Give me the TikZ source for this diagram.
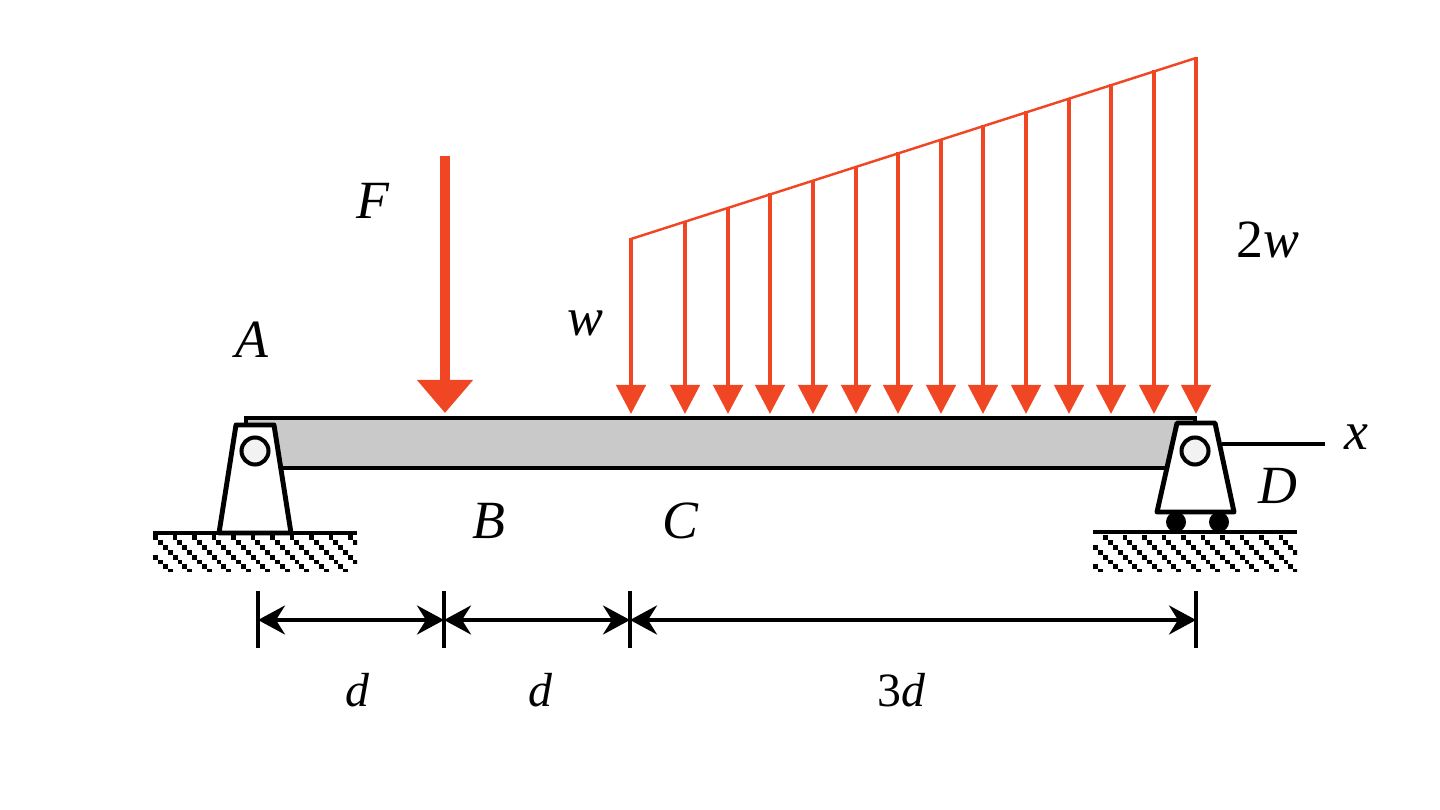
\documentclass[tikz,border=0pt]{standalone}
\usepackage{fontspec}
\setmainfont{Liberation Serif}
\usetikzlibrary{positioning, arrows.meta, calc}
\definecolor{loadred}{HTML}{F04623}
\definecolor{beamgray}{HTML}{C9C9C9}
\definecolor{pingray}{HTML}{F2F2F2}
\tikzset{
  lbl/.style={font=\fontsize{15.3}{18}\selectfont\itshape, inner sep=0pt},
  dimlbl/.style={font=\fontsize{13.6}{16}\selectfont\itshape, inner sep=0pt},
  pin/.style={circle, draw=black, line width=1.15pt, fill=pingray, minimum size=0.27cm, inner sep=0pt},
  wheel/.style={circle, fill=black, minimum size=0.2cm, inner sep=0pt},
  support/.style={draw=black, line width=1.4pt, fill=white, line join=round},
  ground/.style={black, line width=1.1pt},
  dimline/.style={black, line width=1.05pt, {Stealth[length=0.27cm,width=0.29cm,inset=0.09cm]}-{Stealth[length=0.27cm,width=0.29cm,inset=0.09cm]}},
  tick/.style={black, line width=1.2pt},
  loadarrow/.style={loadred, line width=1.35pt, -{Triangle[length=0.29cm,width=0.29cm]}}
}
\begin{document}
\begin{tikzpicture}[x=0.01cm,y=-0.01cm]
\useasboundingbox (0,0) rectangle (1440,810);

% beam
\fill[beamgray] (246,418) rectangle (1195,468);
\draw[black, line width=1.4pt] (246,425) -- (246,418) -- (1195,418) -- (1195,425);
\draw[black, line width=1.2pt] (246,468) -- (1195,468);

% ground
\foreach \gx/\off in {153/0,1093/10} {
  \begin{scope}
    \clip (\gx,533) rectangle ++(204,38);
    \foreach \row in {0,...,7}
      \foreach \i in {-2,...,10}
        \fill[black] ({\gx+\off+\i*19.5+\row*4.9},{535+\row*4.9}) rectangle ++(4.9,4.9);
  \end{scope}
}
\coordinate (gA1) at (153,533);
\coordinate (gA2) at (357,533);
\coordinate (gD1) at (1093,532);
\coordinate (gD2) at (1297,532);
\draw[ground] (gA1) -- (gA2);
\draw[ground] (gD1) -- (gD2);

% supports
\draw[support] (236,425) -- (274,425) -- (291,533) -- (219,533) -- cycle;
\node[pin] (pinA) at (255,451) {};
\draw[support] (1177,423) -- (1215,423) -- (1234,512) -- (1157,512) -- cycle;
\node[pin] (pinD) at (1195,451) {};
\node[wheel] (wheelL) at (1176,522) {};
\node[wheel] (wheelR) at (1219,522) {};

% axis
\coordinate (axis0) at (1222,444);
\coordinate (axis1) at (1325,444);
\draw[black, line width=1.05pt] (axis0) -- (axis1);

% point load
\coordinate (F0) at (445,156);
\coordinate (F1) at (445,413);
\draw[loadred, line width=3.1pt, -{Triangle[length=0.33cm,width=0.54cm]}] (F0) -- (F1);

% distributed load
\coordinate (w0) at (631,239);
\coordinate (w1) at (1196,58);
\draw[loadred, line width=0.7pt] (w0) -- (w1);
\foreach \ax in {631,685,728,770,813,856,898,941,983,1026,1069,1111,1154,1196}
  \draw[loadarrow] (\ax,{239-(\ax-631)*0.3204-1}) -- (\ax,414);

% dimensions
\coordinate (t1) at (258,620);
\coordinate (t2) at (444,620);
\coordinate (t3) at (630,620);
\coordinate (t4) at (1196,620);
\foreach \t in {t1,t2,t3,t4}
  \draw[tick] ($(\t)+(0,-29)$) -- ($(\t)+(0,28)$);
\draw[dimline] (t1) -- (t2);
\draw[dimline] (t2) -- (t3);
\draw[dimline] (t3) -- (t4);

% labels
\node[lbl] (lblF) at (373,201) {F};
\node[lbl] (lblA) at (252,340) {A};
\node[lbl] (lblB) at (489,521) {B};
\node[lbl] (lblC) at (680,521) {C};
\node[lbl] (lblD) at (1278,486) {D};
\node[lbl] (lblw) at (585,323) {w};
\node[lbl] (lbl2w) at (1268,240) {\upshape 2\itshape w};
\node[lbl] (lblx) at (1356,437) {x};
\node[dimlbl] (dim1) at (357,690) {d};
\node[dimlbl] (dim2) at (540,690) {d};
\node[dimlbl] (dim3) at (901,690) {\upshape 3\itshape d};
\end{tikzpicture}
\end{document}
